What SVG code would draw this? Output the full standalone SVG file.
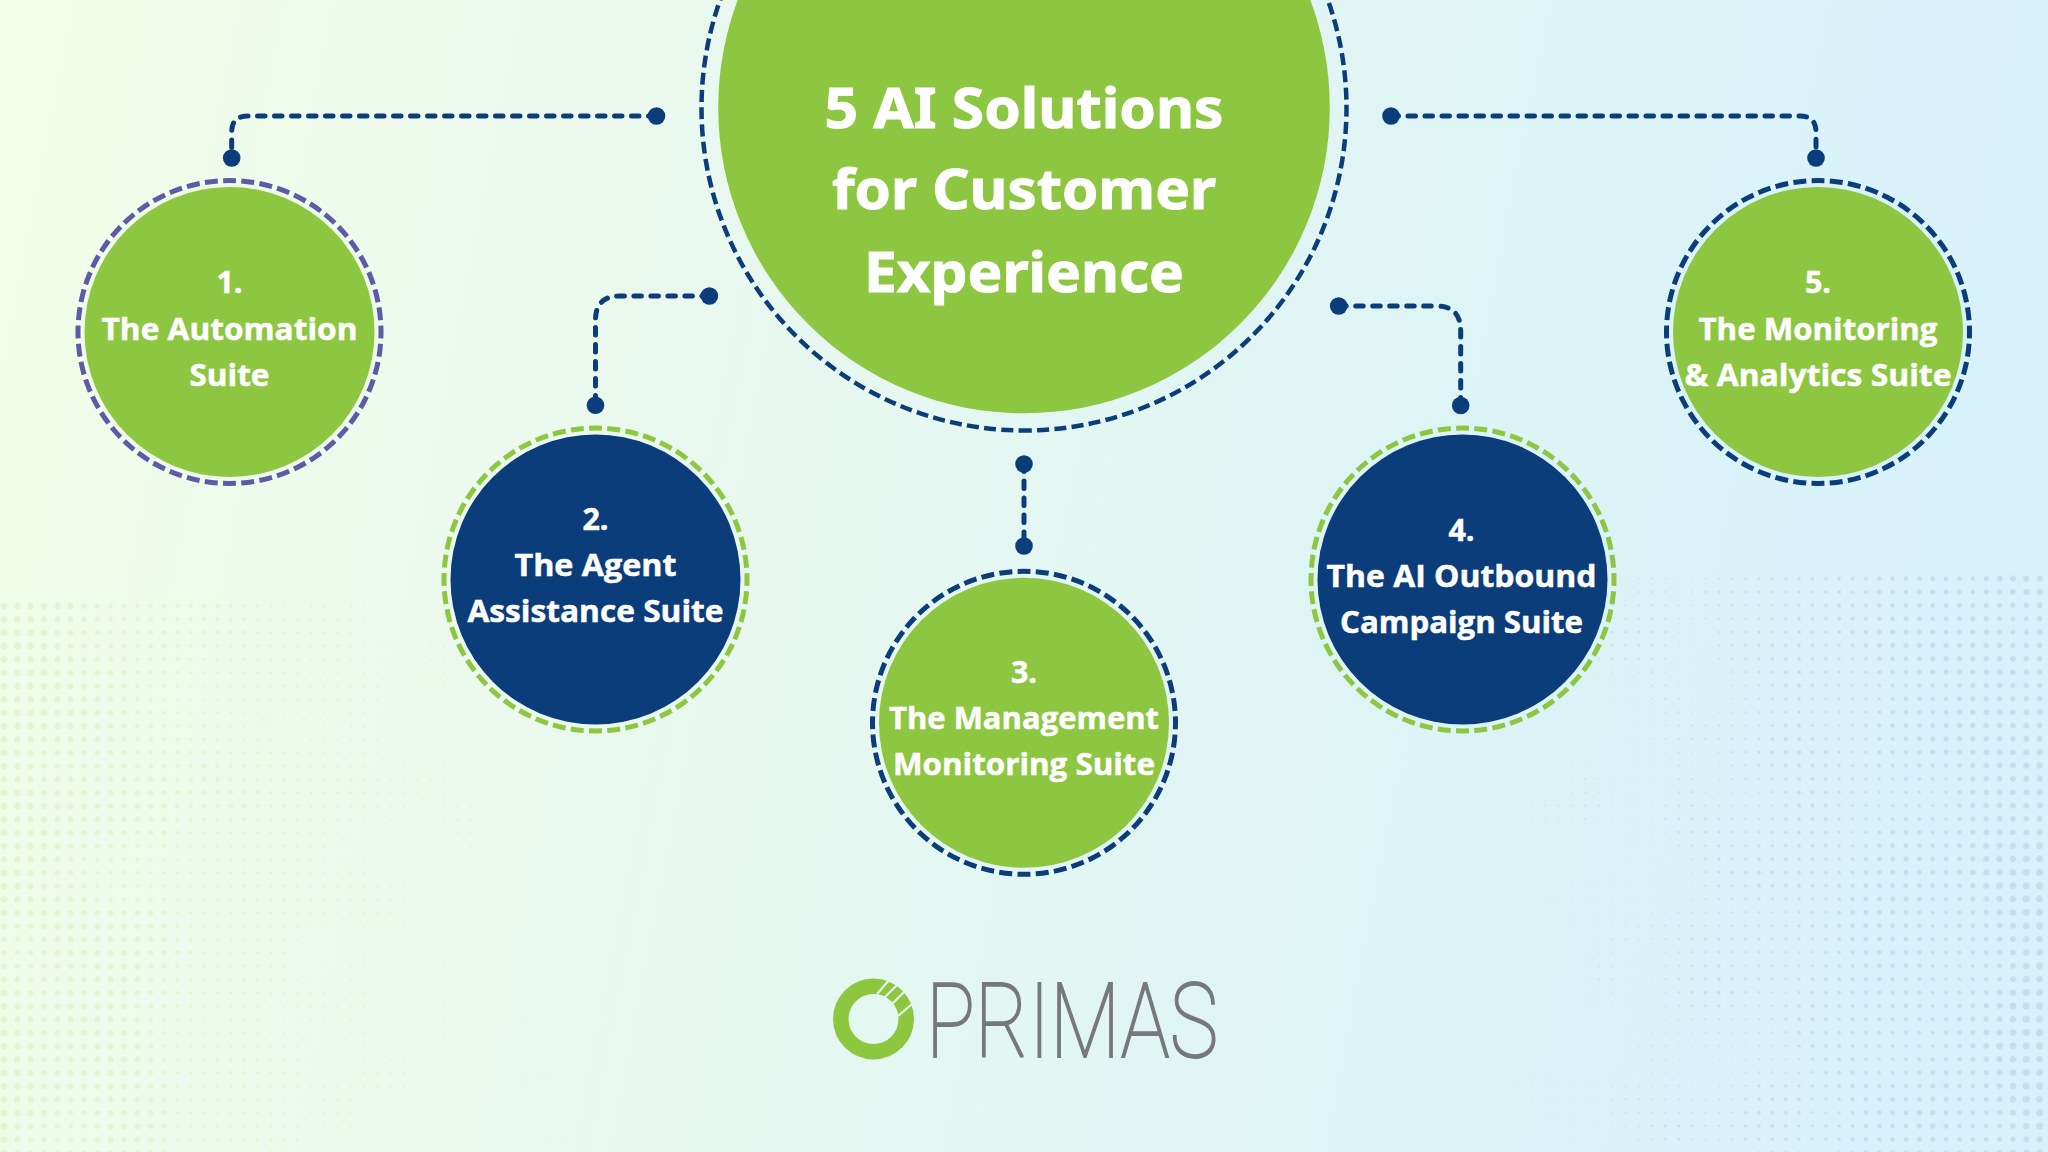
<svg xmlns="http://www.w3.org/2000/svg" width="2048" height="1152" viewBox="0 0 2048 1152">
<style>
.fg{fill:#8dc741}.nv{fill:#0b3d7b}
.ring{fill:none;stroke-width:5;stroke-dasharray:13 5.3;stroke-dashoffset:6.5}
.rn{stroke:#0b3d7b}.rg{stroke:#8dc741}.rp{stroke:#5b5ba8}
.lbl{font-family:"Open Sans","Noto Sans",sans-serif;font-weight:700;font-size:30.5px;fill:#fff;stroke:#fff;stroke-width:.5;text-anchor:middle}
.ttl{font-family:"Noto Sans","Open Sans",sans-serif;font-weight:700;font-size:56px;fill:#fff;stroke:#fff;stroke-width:1;text-anchor:middle}
.conn{fill:none;stroke:#0b3d7b;stroke-width:5;stroke-linecap:round;stroke-dasharray:7.5 9.5}
.dot{fill:#0b3d7b}
</style>
<defs>
<linearGradient id="bg" gradientUnits="userSpaceOnUse" x1="0" y1="0" x2="2048" y2="400">
<stop offset="0" stop-color="#f4fee7"/><stop offset=".08" stop-color="#f0fbe9"/><stop offset=".3" stop-color="#ebf9ee"/><stop offset=".5" stop-color="#e5f7f1"/><stop offset=".75" stop-color="#dcf4f6"/><stop offset="1" stop-color="#d8f2fc"/>
</linearGradient>
<radialGradient id="soft"><stop offset="0" stop-color="#000" stop-opacity="1"/><stop offset="1" stop-color="#000" stop-opacity="0"/></radialGradient>
<pattern id="dl" patternUnits="userSpaceOnUse" x="-2.67" y="599.33" width="13.34" height="13.34"><circle cx="6.67" cy="6.67" r="6.67" fill="url(#soft)"/></pattern>
<pattern id="dr" patternUnits="userSpaceOnUse" x="2.17" y="572" width="13.36" height="13.35"><circle cx="6.68" cy="6.68" r="6.67" fill="url(#soft)"/></pattern>
<linearGradient id="fl" gradientUnits="userSpaceOnUse" x1="0" y1="0" x2="600" y2="0">
<stop offset="0" stop-color="#fff" stop-opacity=".95"/><stop offset=".1" stop-color="#fff" stop-opacity=".86"/><stop offset=".3" stop-color="#fff" stop-opacity=".68"/><stop offset=".55" stop-color="#fff" stop-opacity=".56"/><stop offset=".8" stop-color="#fff" stop-opacity=".49"/><stop offset="1" stop-color="#fff" stop-opacity=".4"/>
</linearGradient>
<linearGradient id="fr" gradientUnits="userSpaceOnUse" x1="1500" y1="0" x2="2048" y2="0">
<stop offset="0" stop-color="#fff" stop-opacity=".42"/><stop offset=".2" stop-color="#fff" stop-opacity=".5"/><stop offset=".45" stop-color="#fff" stop-opacity=".58"/><stop offset=".72" stop-color="#fff" stop-opacity=".68"/><stop offset="1" stop-color="#fff" stop-opacity=".92"/>
</linearGradient>
<mask id="ml" maskUnits="userSpaceOnUse" x="0" y="600" width="640" height="552"><rect x="0" y="600" width="640" height="552" fill="url(#fl)"/></mask>
<mask id="mr" maskUnits="userSpaceOnUse" x="1500" y="572" width="548" height="580"><rect x="1500" y="572" width="548" height="580" fill="url(#fr)"/></mask>
<filter id="tg" filterUnits="userSpaceOnUse" x="0" y="590" width="660" height="562" color-interpolation-filters="sRGB">
<feTurbulence type="fractalNoise" baseFrequency=".012" numOctaves="2" seed="4" result="n"/>
<feComposite in="SourceAlpha" in2="n" operator="arithmetic" k1=".6" k2=".7" k3="0" k4="0" result="a"/>
<feComponentTransfer in="a" result="t"><feFuncA type="linear" slope="7" intercept="-2.8"/></feComponentTransfer>
<feFlood flood-color="#e2f6d1"/><feComposite in2="t" operator="in"/>
</filter>
<filter id="tb" filterUnits="userSpaceOnUse" x="1480" y="560" width="568" height="592" color-interpolation-filters="sRGB">
<feTurbulence type="fractalNoise" baseFrequency=".012" numOctaves="2" seed="9" result="n"/>
<feComposite in="SourceAlpha" in2="n" operator="arithmetic" k1=".6" k2=".7" k3="0" k4="0" result="a"/>
<feComponentTransfer in="a" result="t"><feFuncA type="linear" slope="7" intercept="-2.8"/></feComponentTransfer>
<feFlood flood-color="#c4dfef"/><feComposite in2="t" operator="in"/>
</filter>
<filter id="soften" filterUnits="userSpaceOnUse" x="780" y="940" width="490" height="150"><feGaussianBlur stdDeviation=".6"/></filter>
</defs>

<rect width="2048" height="1152" fill="url(#bg)"/>
<g filter="url(#tg)"><rect x="0" y="600" width="640" height="552" fill="url(#dl)" mask="url(#ml)"/></g>
<g filter="url(#tb)"><rect x="1500" y="572" width="548" height="580" fill="url(#dr)" mask="url(#mr)"/></g>

<g id="connectors">
<path class="conn" d="M656 116H248Q231.700 116 231.700 132V158"/><circle class="dot" cx="656.500" cy="116" r="8.800"/><circle class="dot" cx="231.700" cy="158" r="8.800"/>
<path class="conn" d="M709.400 296H620Q595.500 296 595.500 320V405"/><circle class="dot" cx="709.400" cy="296" r="8.800"/><circle class="dot" cx="595.500" cy="405.300" r="8.800"/>
<path class="conn" d="M1024 464V546"/><circle class="dot" cx="1024" cy="464" r="8.800"/><circle class="dot" cx="1024" cy="546" r="8.800"/>
<path class="conn" d="M1338.700 306H1436Q1460.700 306 1460.700 331V405"/><circle class="dot" cx="1338.700" cy="306" r="8.800"/><circle class="dot" cx="1460.700" cy="405.500" r="8.800"/>
<path class="conn" d="M1391 116H1800Q1816 116 1816 132V158"/><circle class="dot" cx="1391" cy="116" r="8.800"/><circle class="dot" cx="1816" cy="158" r="8.800"/>
</g>

<g id="center">
<circle class="fg" cx="1024" cy="107.500" r="305.800"/>
<circle class="ring rn" style="stroke-width:4.500;stroke-dasharray:12 5.300" cx="1024" cy="108" r="322.500" transform="rotate(90 1024 108)"/>
<text class="ttl" x="1024" y="127.700" textLength="399" lengthAdjust="spacingAndGlyphs">5 AI Solutions</text>
<text class="ttl" x="1024" y="209.300" textLength="384" lengthAdjust="spacingAndGlyphs">for Customer</text>
<text class="ttl" x="1024" y="291.700" textLength="320" lengthAdjust="spacingAndGlyphs">Experience</text>
</g>

<g id="node1">
<circle class="fg" cx="229.500" cy="332" r="145"/>
<circle class="ring rp" cx="229.500" cy="332" r="151.500" transform="rotate(-90 229.500 332)"/>
<text class="lbl" x="229.500" y="293">1.</text>
<text class="lbl" x="229.500" y="340" textLength="256" lengthAdjust="spacingAndGlyphs">The Automation</text>
<text class="lbl" x="229.500" y="386" textLength="80" lengthAdjust="spacingAndGlyphs">Suite</text>
</g>
<g id="node2">
<circle class="nv" cx="595.500" cy="579.500" r="145"/>
<circle class="ring rg" cx="595.500" cy="579.500" r="151.500" transform="rotate(-90 595.500 579.500)"/>
<text class="lbl" x="595.500" y="530">2.</text>
<text class="lbl" x="595.500" y="575.800" textLength="162" lengthAdjust="spacingAndGlyphs">The Agent</text>
<text class="lbl" x="595.500" y="621.800" textLength="256" lengthAdjust="spacingAndGlyphs">Assistance Suite</text>
</g>
<g id="node3">
<circle class="fg" cx="1024" cy="722.800" r="145"/>
<circle class="ring rn" cx="1024" cy="722.800" r="151.500" transform="rotate(-90 1024 722.800)"/>
<text class="lbl" x="1024" y="683">3.</text>
<text class="lbl" x="1024" y="729" textLength="270" lengthAdjust="spacingAndGlyphs">The Management</text>
<text class="lbl" x="1024" y="775" textLength="262" lengthAdjust="spacingAndGlyphs">Monitoring Suite</text>
</g>
<g id="node4">
<circle class="nv" cx="1462.500" cy="579.500" r="145"/>
<circle class="ring rg" cx="1462.500" cy="579.500" r="151.500" transform="rotate(-90 1462.500 579.500)"/>
<text class="lbl" x="1461.500" y="540.500">4.</text>
<text class="lbl" x="1461.500" y="586.800" textLength="270" lengthAdjust="spacingAndGlyphs">The AI Outbound</text>
<text class="lbl" x="1461.500" y="632.900" textLength="243" lengthAdjust="spacingAndGlyphs">Campaign Suite</text>
</g>
<g id="node5">
<circle class="fg" cx="1818" cy="332" r="145"/>
<circle class="ring rn" cx="1818" cy="332" r="151.500" transform="rotate(-90 1818 332)"/>
<text class="lbl" x="1818" y="293">5.</text>
<text class="lbl" x="1818" y="340" textLength="239" lengthAdjust="spacingAndGlyphs">The Monitoring</text>
<text class="lbl" x="1818" y="386" textLength="267" lengthAdjust="spacingAndGlyphs">&amp; Analytics Suite</text>
</g>

<g id="logo">
<g filter="url(#soften)">
<circle cx="873.500" cy="1019" r="32.700" fill="none" stroke="#8dc741" stroke-width="15.500"/>
<g fill="none" stroke="#e6f7f3" stroke-width="2.200">
<path d="M877 994L890 979"/><path d="M885 997L899 983"/><path d="M892 1004L906 990"/><path d="M898 1016L918 999"/>
</g>
<path d="M877 994L898 1017L893 1005L885 997Z" fill="#e6f7f3"/>
</g>
<text x="926" y="1057" font-family="Roboto,'Liberation Sans',sans-serif" font-weight="100" font-size="104" fill="#77787b" stroke="#77787b" stroke-width="2" textLength="292" lengthAdjust="spacingAndGlyphs" filter="url(#soften)">PRIMAS</text>
</g>
</svg>
